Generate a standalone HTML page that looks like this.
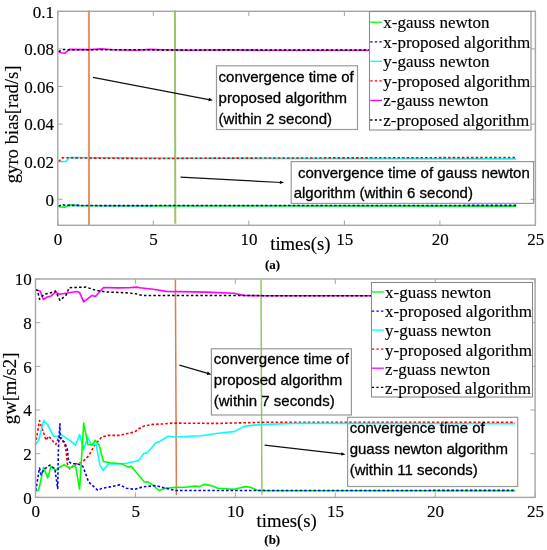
<!DOCTYPE html><html><head><meta charset="utf-8"><title>figure</title>
<style>html,body{margin:0;padding:0;background:#fff;}svg{display:block;}</style></head><body>
<svg width="547" height="550" viewBox="0 0 547 550">
<style>text{stroke:#000;stroke-width:0.15px;}text.s{stroke-width:0.3px;}</style>
<rect width="547" height="550" fill="#fff"/>
<line x1="88.9" y1="10.2" x2="89.0" y2="225.3" stroke="#e8906a" stroke-width="2.0"/>
<line x1="174.95" y1="10.2" x2="175.3" y2="223.8" stroke="#9cc468" stroke-width="2.0"/>
<polyline points="58.5,206.3 61.0,206.8 65.0,207.2 69.0,205.0 80.0,205.6 150.0,205.8 516.3,206.0" fill="none" stroke="#00ff00" stroke-width="1.8" stroke-linejoin="round"/>
<polyline points="58.5,206.2 62.0,204.6 66.0,205.3 100.0,205.6 516.3,205.4" fill="none" stroke="#0000ff" stroke-width="1.6" stroke-linejoin="round" stroke-dasharray="2.6 2"/>
<polyline points="58.5,161.5 66.0,161.5 69.3,157.6 95.0,157.8 200.0,158.3 516.3,158.9" fill="none" stroke="#00ffff" stroke-width="1.6" stroke-linejoin="round"/>
<polyline points="58.5,161.5 62.7,157.7 100.0,158.2 160.0,158.6 200.0,158.2 516.3,157.5" fill="none" stroke="#ff0000" stroke-width="1.6" stroke-linejoin="round" stroke-dasharray="2.6 2"/>
<polyline points="58.5,51.7 61.0,52.8 64.9,53.3 69.3,49.4 90.0,49.6 101.0,48.9 113.8,49.7 135.7,50.3 150.3,49.4 163.0,49.7 190.0,50.2 224.0,49.8 260.0,50.2 516.3,50.2" fill="none" stroke="#ff00ff" stroke-width="1.6" stroke-linejoin="round"/>
<polyline points="58.5,51.5 64.0,49.4 70.0,49.8 516.3,50.2" fill="none" stroke="#000000" stroke-width="1.5" stroke-linejoin="round" stroke-dasharray="2.5 2.2"/>
<rect x="57.8" y="11.3" width="477.59999999999997" height="214.0" fill="none" stroke="#a6a6a6" stroke-width="1.4"/>
<line x1="57.8" y1="225.3" x2="57.8" y2="220.5" stroke="#a6a6a6" stroke-width="1"/>
<line x1="57.8" y1="11.3" x2="57.8" y2="16.1" stroke="#a6a6a6" stroke-width="1"/>
<line x1="153.3" y1="225.3" x2="153.3" y2="220.5" stroke="#a6a6a6" stroke-width="1"/>
<line x1="153.3" y1="11.3" x2="153.3" y2="16.1" stroke="#a6a6a6" stroke-width="1"/>
<line x1="248.8" y1="225.3" x2="248.8" y2="220.5" stroke="#a6a6a6" stroke-width="1"/>
<line x1="248.8" y1="11.3" x2="248.8" y2="16.1" stroke="#a6a6a6" stroke-width="1"/>
<line x1="344.4" y1="225.3" x2="344.4" y2="220.5" stroke="#a6a6a6" stroke-width="1"/>
<line x1="344.4" y1="11.3" x2="344.4" y2="16.1" stroke="#a6a6a6" stroke-width="1"/>
<line x1="439.9" y1="225.3" x2="439.9" y2="220.5" stroke="#a6a6a6" stroke-width="1"/>
<line x1="439.9" y1="11.3" x2="439.9" y2="16.1" stroke="#a6a6a6" stroke-width="1"/>
<line x1="535.4" y1="225.3" x2="535.4" y2="220.5" stroke="#a6a6a6" stroke-width="1"/>
<line x1="535.4" y1="11.3" x2="535.4" y2="16.1" stroke="#a6a6a6" stroke-width="1"/>
<line x1="57.8" y1="199.3" x2="62.599999999999994" y2="199.3" stroke="#a6a6a6" stroke-width="1"/>
<line x1="535.4" y1="199.3" x2="530.6" y2="199.3" stroke="#a6a6a6" stroke-width="1"/>
<line x1="57.8" y1="161.7" x2="62.599999999999994" y2="161.7" stroke="#a6a6a6" stroke-width="1"/>
<line x1="535.4" y1="161.7" x2="530.6" y2="161.7" stroke="#a6a6a6" stroke-width="1"/>
<line x1="57.8" y1="124.1" x2="62.599999999999994" y2="124.1" stroke="#a6a6a6" stroke-width="1"/>
<line x1="535.4" y1="124.1" x2="530.6" y2="124.1" stroke="#a6a6a6" stroke-width="1"/>
<line x1="57.8" y1="86.5" x2="62.599999999999994" y2="86.5" stroke="#a6a6a6" stroke-width="1"/>
<line x1="535.4" y1="86.5" x2="530.6" y2="86.5" stroke="#a6a6a6" stroke-width="1"/>
<line x1="57.8" y1="48.9" x2="62.599999999999994" y2="48.9" stroke="#a6a6a6" stroke-width="1"/>
<line x1="535.4" y1="48.9" x2="530.6" y2="48.9" stroke="#a6a6a6" stroke-width="1"/>
<line x1="57.8" y1="11.3" x2="62.599999999999994" y2="11.3" stroke="#a6a6a6" stroke-width="1"/>
<line x1="535.4" y1="11.3" x2="530.6" y2="11.3" stroke="#a6a6a6" stroke-width="1"/>
<text x="54.0" y="205.5" text-anchor="end" font-family="'Liberation Serif', 'Times New Roman', serif" font-size="17" fill="#000">0</text>
<text x="54.0" y="167.9" text-anchor="end" font-family="'Liberation Serif', 'Times New Roman', serif" font-size="17" fill="#000">0.02</text>
<text x="54.0" y="130.3" text-anchor="end" font-family="'Liberation Serif', 'Times New Roman', serif" font-size="17" fill="#000">0.04</text>
<text x="54.0" y="92.7" text-anchor="end" font-family="'Liberation Serif', 'Times New Roman', serif" font-size="17" fill="#000">0.06</text>
<text x="54.0" y="55.1" text-anchor="end" font-family="'Liberation Serif', 'Times New Roman', serif" font-size="17" fill="#000">0.08</text>
<text x="54.0" y="17.5" text-anchor="end" font-family="'Liberation Serif', 'Times New Roman', serif" font-size="17" fill="#000">0.1</text>
<text x="58.1" y="245.1" text-anchor="middle" font-family="'Liberation Serif', 'Times New Roman', serif" font-size="17" fill="#000">0</text>
<text x="153.6" y="245.1" text-anchor="middle" font-family="'Liberation Serif', 'Times New Roman', serif" font-size="17" fill="#000">5</text>
<text x="249.1" y="245.1" text-anchor="middle" font-family="'Liberation Serif', 'Times New Roman', serif" font-size="17" fill="#000">10</text>
<text x="344.7" y="245.1" text-anchor="middle" font-family="'Liberation Serif', 'Times New Roman', serif" font-size="17" fill="#000">15</text>
<text x="440.2" y="245.1" text-anchor="middle" font-family="'Liberation Serif', 'Times New Roman', serif" font-size="17" fill="#000">20</text>
<text x="535.7" y="245.1" text-anchor="middle" font-family="'Liberation Serif', 'Times New Roman', serif" font-size="17" fill="#000">25</text>
<rect x="369.5" y="11.5" width="161.5" height="118.5" fill="#fff" stroke="#8c8c8c" stroke-width="1.1"/>
<line x1="370.2" y1="22.2" x2="382" y2="22.2" stroke="#00ff00" stroke-width="1.3"/>
<text x="383.3" y="28.2" font-family="'Liberation Serif', 'Times New Roman', serif" font-size="17" fill="#000">x-gauss newton</text>
<line x1="370.2" y1="41.8" x2="382" y2="41.8" stroke="#0000ff" stroke-width="1.3" stroke-dasharray="2.4 2.2"/>
<text x="383.3" y="47.8" font-family="'Liberation Serif', 'Times New Roman', serif" font-size="17" fill="#000">x-proposed algorithm</text>
<line x1="370.2" y1="61.3" x2="382" y2="61.3" stroke="#00ffff" stroke-width="1.3"/>
<text x="383.3" y="67.3" font-family="'Liberation Serif', 'Times New Roman', serif" font-size="17" fill="#000">y-gauss newton</text>
<line x1="370.2" y1="80.9" x2="382" y2="80.9" stroke="#ff0000" stroke-width="1.3" stroke-dasharray="2.4 2.2"/>
<text x="383.3" y="86.9" font-family="'Liberation Serif', 'Times New Roman', serif" font-size="17" fill="#000">y-proposed algorithm</text>
<line x1="370.2" y1="100.4" x2="382" y2="100.4" stroke="#ff00ff" stroke-width="1.3"/>
<text x="383.3" y="106.4" font-family="'Liberation Serif', 'Times New Roman', serif" font-size="17" fill="#000">z-gauss newton</text>
<line x1="370.2" y1="120.0" x2="382" y2="120.0" stroke="#000000" stroke-width="1.3" stroke-dasharray="2.2 2.4"/>
<text x="383.3" y="126.0" font-family="'Liberation Serif', 'Times New Roman', serif" font-size="17" fill="#000">z-proposed algorithm</text>
<rect x="216.5" y="65.8" width="141.0" height="63.7" fill="none" stroke="#999" stroke-width="1.2"/>
<text class="s" x="218.6" y="81.8" font-family="'Liberation Sans', Arial, sans-serif" font-size="15" fill="#000">convergence time of</text>
<text class="s" x="218.6" y="102.7" font-family="'Liberation Sans', Arial, sans-serif" font-size="15" fill="#000">proposed algorithm</text>
<text class="s" x="218.6" y="123.6" font-family="'Liberation Sans', Arial, sans-serif" font-size="15" fill="#000">(within 2 second)</text>
<rect x="291.2" y="161.6" width="242.40000000000003" height="41.80000000000001" fill="none" stroke="#999" stroke-width="1.2"/>
<text class="s" x="298" y="177.6" font-family="'Liberation Sans', Arial, sans-serif" font-size="15" fill="#000">convergence time of gauss newton</text>
<text class="s" x="293.7" y="197.8" font-family="'Liberation Sans', Arial, sans-serif" font-size="15" fill="#000">algorithm (within 6 second)</text>
<line x1="93" y1="77.4" x2="210.1" y2="99.8" stroke="#111" stroke-width="1.2"/>
<polygon points="212.8,100.3 208.4,101.2 209.0,97.8" fill="#000"/>
<line x1="180.5" y1="177.1" x2="281.4" y2="182.5" stroke="#111" stroke-width="1.2"/>
<polygon points="284.1,182.6 279.8,184.1 280.0,180.7" fill="#000"/>
<text transform="translate(18.3,183.3) rotate(-90)" font-family="'Liberation Serif', 'Times New Roman', serif" font-size="18.7" fill="#000">gyro bias[rad/s]</text>
<text x="270.2" y="249.9" font-family="'Liberation Serif', 'Times New Roman', serif" font-size="18.7" fill="#000">times(s)</text>
<text x="265" y="268.8" font-family="'Liberation Serif', 'Times New Roman', serif" font-size="13" font-weight="bold" fill="#000">(a)</text>
<line x1="175.4" y1="279.6" x2="176.4" y2="495.2" stroke="#e07a4e" stroke-width="1.5"/>
<line x1="261.0" y1="279.6" x2="261.9" y2="494.8" stroke="#92c860" stroke-width="1.5"/>
<polyline points="35.7,289.7 40.1,291.0 43.4,299.5 47.3,297.0 51.1,295.9 55.5,292.1 59.3,294.3 65.9,293.2 76.9,291.5 79.6,292.6 83.7,301.9 87.8,298.6 92.1,295.4 95.4,296.5 103.6,287.5 117.9,287.9 128.9,287.7 136.6,287.1 140.0,287.7 153.2,289.2 166.3,291.4 205.8,292.1 234.3,293.2 243.1,295.4 260.0,295.8 515.1,295.8" fill="none" stroke="#ff00ff" stroke-width="1.6" stroke-linejoin="round"/>
<polyline points="35.7,289.7 37.4,290.4 39.6,299.2 44.0,294.3 49.5,293.2 55.5,291.0 59.9,300.3 65.9,295.4 69.2,287.7 86.1,287.1 96.0,290.4 104.7,291.8 128.9,293.0 135.5,293.7 142.0,295.4 515.1,296.1" fill="none" stroke="#000000" stroke-width="1.5" stroke-linejoin="round" stroke-dasharray="2.5 2.2"/>
<polyline points="35.5,444.4 39.5,420.6 43.6,432.9 46.1,440.3 48.5,436.2 55.9,444.4 58.4,437.8 61.6,437.8 65.7,447.6 67.4,464.0 69.8,468.9 75.5,464.0 82.1,462.4 88.6,455.8 95.2,444.4 101.7,437.0 108.3,435.4 119.8,435.4 126.4,433.7 134.5,432.1 138.6,428.8 144.4,425.9 152.5,424.4 164.0,423.9 172.2,423.1 217.7,423.4 265.0,422.3 515.1,422.4" fill="none" stroke="#ff0000" stroke-width="1.6" stroke-linejoin="round" stroke-dasharray="2.6 2"/>
<polyline points="35.5,444.4 38.7,440.3 43.6,420.6 47.7,424.7 53.5,436.2 58.4,436.2 60.8,434.5 67.4,438.6 75.5,445.2 79.6,434.5 83.7,449.3 87.8,437.0 91.1,444.4 96.0,444.4 100.1,465.6 103.3,470.5 108.3,464.0 118.2,464.0 126.4,463.2 134.5,461.5 139.4,459.9 143.5,453.8 147.6,452.5 155.8,442.7 159.1,441.9 168.1,436.2 175.4,437.0 201.4,435.8 217.7,433.2 234.1,431.6 243.9,426.4 253.7,425.1 265.0,424.4 300.0,423.3 515.1,423.8" fill="none" stroke="#00ffff" stroke-width="1.6" stroke-linejoin="round"/>
<polyline points="35.5,491.0 38.7,490.2 43.6,467.3 47.7,477.9 51.0,466.4 55.9,470.5 58.4,468.0 64.1,464.8 69.8,468.0 75.5,465.6 79.6,489.3 83.7,423.1 87.8,444.4 91.9,445.2 95.2,440.3 99.3,445.2 103.3,461.5 110.0,462.7 121.5,463.7 128.0,466.9 131.3,466.4 136.2,472.2 144.4,482.0 147.6,481.7 152.5,484.9 159.1,490.5 165.6,488.2 175.4,487.4 185.3,487.2 194.8,486.1 199.7,486.6 203.8,484.4 211.2,485.6 217.7,488.2 234.1,489.3 245.5,486.6 250.4,487.2 257.0,490.2 265.0,490.6 515.1,490.8" fill="none" stroke="#00ff00" stroke-width="1.6" stroke-linejoin="round"/>
<polyline points="35.7,490.8 39.5,468.0 41.0,474.6 43.9,469.5 49.7,465.1 54.8,468.8 57.7,488.4 58.4,448.4 59.9,423.7 60.2,438.0 62.1,440.4 64.3,441.9 67.2,448.4 68.6,461.5 71.5,463.7 76.6,463.7 81.0,465.1 82.9,466.4 88.6,482.0 97.6,490.2 101.7,488.5 110.0,486.9 119.8,484.9 126.4,488.2 134.5,489.3 142.7,486.9 155.8,485.6 165.6,488.2 175.4,490.5 515.1,490.4" fill="none" stroke="#0000ff" stroke-width="1.6" stroke-linejoin="round" stroke-dasharray="2.6 2"/>
<rect x="35.5" y="279.0" width="499.6" height="218.39999999999998" fill="none" stroke="#a6a6a6" stroke-width="1.4"/>
<line x1="35.5" y1="497.4" x2="35.5" y2="492.59999999999997" stroke="#a6a6a6" stroke-width="1"/>
<line x1="35.5" y1="279.0" x2="35.5" y2="283.8" stroke="#a6a6a6" stroke-width="1"/>
<line x1="135.4" y1="497.4" x2="135.4" y2="492.59999999999997" stroke="#a6a6a6" stroke-width="1"/>
<line x1="135.4" y1="279.0" x2="135.4" y2="283.8" stroke="#a6a6a6" stroke-width="1"/>
<line x1="235.3" y1="497.4" x2="235.3" y2="492.59999999999997" stroke="#a6a6a6" stroke-width="1"/>
<line x1="235.3" y1="279.0" x2="235.3" y2="283.8" stroke="#a6a6a6" stroke-width="1"/>
<line x1="335.3" y1="497.4" x2="335.3" y2="492.59999999999997" stroke="#a6a6a6" stroke-width="1"/>
<line x1="335.3" y1="279.0" x2="335.3" y2="283.8" stroke="#a6a6a6" stroke-width="1"/>
<line x1="435.2" y1="497.4" x2="435.2" y2="492.59999999999997" stroke="#a6a6a6" stroke-width="1"/>
<line x1="435.2" y1="279.0" x2="435.2" y2="283.8" stroke="#a6a6a6" stroke-width="1"/>
<line x1="535.1" y1="497.4" x2="535.1" y2="492.59999999999997" stroke="#a6a6a6" stroke-width="1"/>
<line x1="535.1" y1="279.0" x2="535.1" y2="283.8" stroke="#a6a6a6" stroke-width="1"/>
<line x1="35.5" y1="497.4" x2="40.3" y2="497.4" stroke="#a6a6a6" stroke-width="1"/>
<line x1="535.1" y1="497.4" x2="530.3000000000001" y2="497.4" stroke="#a6a6a6" stroke-width="1"/>
<line x1="35.5" y1="453.7" x2="40.3" y2="453.7" stroke="#a6a6a6" stroke-width="1"/>
<line x1="535.1" y1="453.7" x2="530.3000000000001" y2="453.7" stroke="#a6a6a6" stroke-width="1"/>
<line x1="35.5" y1="410.0" x2="40.3" y2="410.0" stroke="#a6a6a6" stroke-width="1"/>
<line x1="535.1" y1="410.0" x2="530.3000000000001" y2="410.0" stroke="#a6a6a6" stroke-width="1"/>
<line x1="35.5" y1="366.4" x2="40.3" y2="366.4" stroke="#a6a6a6" stroke-width="1"/>
<line x1="535.1" y1="366.4" x2="530.3000000000001" y2="366.4" stroke="#a6a6a6" stroke-width="1"/>
<line x1="35.5" y1="322.7" x2="40.3" y2="322.7" stroke="#a6a6a6" stroke-width="1"/>
<line x1="535.1" y1="322.7" x2="530.3000000000001" y2="322.7" stroke="#a6a6a6" stroke-width="1"/>
<line x1="35.5" y1="279.0" x2="40.3" y2="279.0" stroke="#a6a6a6" stroke-width="1"/>
<line x1="535.1" y1="279.0" x2="530.3000000000001" y2="279.0" stroke="#a6a6a6" stroke-width="1"/>
<text x="31.8" y="503.6" text-anchor="end" font-family="'Liberation Serif', 'Times New Roman', serif" font-size="17" fill="#000">0</text>
<text x="31.8" y="459.9" text-anchor="end" font-family="'Liberation Serif', 'Times New Roman', serif" font-size="17" fill="#000">2</text>
<text x="31.8" y="416.2" text-anchor="end" font-family="'Liberation Serif', 'Times New Roman', serif" font-size="17" fill="#000">4</text>
<text x="31.8" y="372.6" text-anchor="end" font-family="'Liberation Serif', 'Times New Roman', serif" font-size="17" fill="#000">6</text>
<text x="31.8" y="328.9" text-anchor="end" font-family="'Liberation Serif', 'Times New Roman', serif" font-size="17" fill="#000">8</text>
<text x="31.8" y="285.2" text-anchor="end" font-family="'Liberation Serif', 'Times New Roman', serif" font-size="17" fill="#000">10</text>
<text x="35.8" y="516.5" text-anchor="middle" font-family="'Liberation Serif', 'Times New Roman', serif" font-size="17" fill="#000">0</text>
<text x="135.7" y="516.5" text-anchor="middle" font-family="'Liberation Serif', 'Times New Roman', serif" font-size="17" fill="#000">5</text>
<text x="235.6" y="516.5" text-anchor="middle" font-family="'Liberation Serif', 'Times New Roman', serif" font-size="17" fill="#000">10</text>
<text x="335.6" y="516.5" text-anchor="middle" font-family="'Liberation Serif', 'Times New Roman', serif" font-size="17" fill="#000">15</text>
<text x="435.5" y="516.5" text-anchor="middle" font-family="'Liberation Serif', 'Times New Roman', serif" font-size="17" fill="#000">20</text>
<text x="535.4" y="516.5" text-anchor="middle" font-family="'Liberation Serif', 'Times New Roman', serif" font-size="17" fill="#000">25</text>
<rect x="371.5" y="282.5" width="161.0" height="114.5" fill="#fff" stroke="#8c8c8c" stroke-width="1.1"/>
<line x1="371.8" y1="292.0" x2="383.8" y2="292.0" stroke="#00ff00" stroke-width="1.3"/>
<text x="385.1" y="298.3" font-family="'Liberation Serif', 'Times New Roman', serif" font-size="17" fill="#000">x-guass newton</text>
<line x1="371.8" y1="311.1" x2="383.8" y2="311.1" stroke="#0000ff" stroke-width="1.3" stroke-dasharray="2.4 2.2"/>
<text x="385.1" y="317.4" font-family="'Liberation Serif', 'Times New Roman', serif" font-size="17" fill="#000">x-proposed algorithm</text>
<line x1="371.8" y1="330.1" x2="383.8" y2="330.1" stroke="#00ffff" stroke-width="1.3"/>
<text x="385.1" y="336.4" font-family="'Liberation Serif', 'Times New Roman', serif" font-size="17" fill="#000">y-guass newton</text>
<line x1="371.8" y1="349.2" x2="383.8" y2="349.2" stroke="#ff0000" stroke-width="1.3" stroke-dasharray="2.4 2.2"/>
<text x="385.1" y="355.5" font-family="'Liberation Serif', 'Times New Roman', serif" font-size="17" fill="#000">y-proposed algorithm</text>
<line x1="371.8" y1="368.2" x2="383.8" y2="368.2" stroke="#ff00ff" stroke-width="1.3"/>
<text x="385.1" y="374.5" font-family="'Liberation Serif', 'Times New Roman', serif" font-size="17" fill="#000">z-guass newton</text>
<line x1="371.8" y1="387.3" x2="383.8" y2="387.3" stroke="#000000" stroke-width="1.3" stroke-dasharray="2.2 2.4"/>
<text x="385.1" y="393.6" font-family="'Liberation Serif', 'Times New Roman', serif" font-size="17" fill="#000">z-proposed algorithm</text>
<rect x="211.4" y="348.8" width="139.99999999999997" height="66.19999999999999" fill="none" stroke="#999" stroke-width="1.2"/>
<text class="s" x="213.8" y="364.4" font-family="'Liberation Sans', Arial, sans-serif" font-size="15" fill="#000">convergence time of</text>
<text class="s" x="213.8" y="385.3" font-family="'Liberation Sans', Arial, sans-serif" font-size="15" fill="#000">proposed algorithm</text>
<text class="s" x="213.8" y="406.2" font-family="'Liberation Sans', Arial, sans-serif" font-size="15" fill="#000">(within 7 seconds)</text>
<rect x="347.6" y="417.3" width="170.10000000000002" height="69.19999999999999" fill="none" stroke="#999" stroke-width="1.2"/>
<text class="s" x="349.7" y="433.4" font-family="'Liberation Sans', Arial, sans-serif" font-size="15" fill="#000">convergence time of</text>
<text class="s" x="349.7" y="454.1" font-family="'Liberation Sans', Arial, sans-serif" font-size="15" fill="#000">guass newton algorithm</text>
<text class="s" x="349.7" y="474.8" font-family="'Liberation Sans', Arial, sans-serif" font-size="15" fill="#000">(within 11 seconds)</text>
<line x1="179.4" y1="365.2" x2="208.7" y2="373.7" stroke="#111" stroke-width="1.2"/>
<polygon points="211.3,374.4 206.8,374.9 207.7,371.6" fill="#000"/>
<line x1="264.6" y1="445.1" x2="342.8" y2="454.1" stroke="#111" stroke-width="1.2"/>
<polygon points="345.5,454.4 341.1,455.6 341.5,452.2" fill="#000"/>
<text transform="translate(16.4,424.2) rotate(-90)" font-family="'Liberation Serif', 'Times New Roman', serif" font-size="18.7" fill="#000">gw[m/s2]</text>
<text x="256.5" y="526.7" font-family="'Liberation Serif', 'Times New Roman', serif" font-size="18.7" fill="#000">times(s)</text>
<text x="264.3" y="543.8" font-family="'Liberation Serif', 'Times New Roman', serif" font-size="13" font-weight="bold" fill="#000">(b)</text>
</svg></body></html>
